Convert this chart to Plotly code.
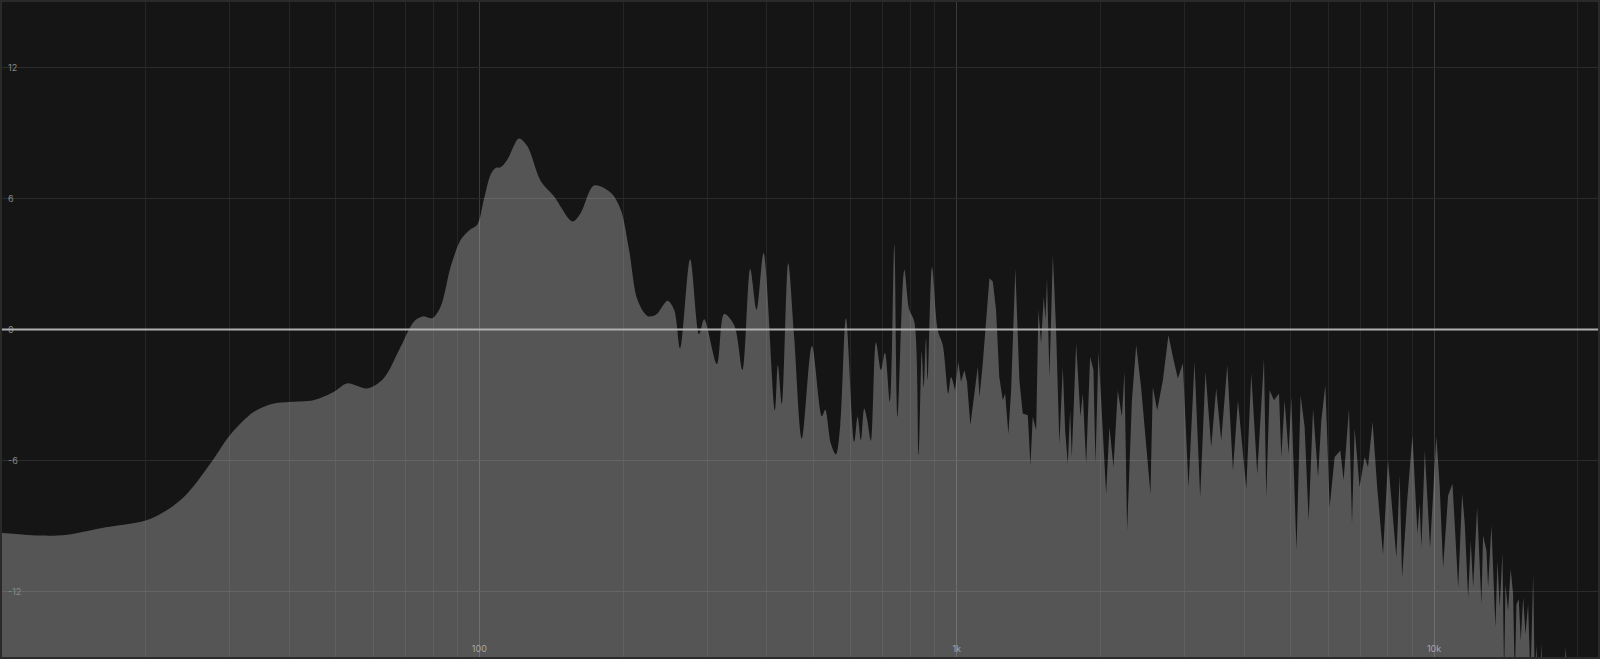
import math
import plotly.graph_objects as go

# ---------------- data (Hz, dB) ----------------
# smooth low / mid band
freq_lo = [10, 12.2, 13.7, 16.1, 20, 22.1, 24.4, 27.3, 30, 33.7, 37.1, 40, 44.9, 49.5,
           52.8, 58.2, 63, 68.4, 72.9, 76, 79.7, 83, 87.1, 91.4, 95.1, 99, 102.2, 105.6,
           108.2, 110.8, 114.5, 121, 126, 134.5, 143.3, 156.7, 163.1, 173.9, 188.5, 197.8,
           205.9, 214.4, 225, 234.3, 247.9, 255.9, 263.4, 276.4, 288.7, 295.8, 314.5,
           325.7, 341.8, 355.9, 369.3, 380.8, 393.9, 416, 422, 430.3, 443.6, 456.5, 474,
           497.4, 521.9, 530.3, 545.1, 558.5, 570.2, 586.1, 610, 620, 630, 640, 648.6,
           661.3, 677.3, 693.9, 707.4, 724.6, 740, 752, 776.6, 795.5, 815, 832.4, 844.6,
           852.8, 862.3, 869.5, 887.7, 912.5, 934.8, 960.3, 972.8, 991.8]
db_lo = [-9.32, -9.44, -9.4, -9.1, -8.75, -8.29, -7.53, -6.15, -4.85, -3.77, -3.39, -3.32,
         -3.24, -2.86, -2.47, -2.7, -2.24, -0.79, 0.36, 0.6, 0.52, 1.05, 2.88, 4.11, 4.54,
         4.8, 5.95, 7.1, 7.4, 7.43, 7.79, 8.75, 8.4, 6.79, 6.1, 4.95, 5.34, 6.59, 6.26, 5.49,
         3.65, 1.36, 0.62, 0.67, 1.32, 0.9, -0.87, 3.22, -0.21, 0.47, -1.58, 0.71, 0.21,
         -1.86, 2.77, 0.9, 3.5, -3.7, -1.63, -3.42, 3.04, -0.33, -5.0, -0.76, -3.97, -3.67,
         -5.23, -5.72, -4.39, 0.51, -5.15, -4.0, -5.08, -3.62, -4.08, -5.11, -0.6, -1.86,
         -1.06, -3.32, 3.88, -4.0, 2.73, 0.9, 0.36, -5.76, -1.02, -2.63, -0.4, -2.32, 2.86,
         -0.02, -0.71, -2.93, -2.17, -2.78]

# spiky high band
freq_hi = [991.8, 1008, 1021, 1037.5, 1051, 1068, 1107, 1116, 1134, 1171, 1190, 1209, 1228,
           1249, 1263, 1283, 1300, 1327, 1353, 1375, 1409, 1427, 1443, 1467, 1483, 1502,
           1522, 1534, 1546, 1564, 1590, 1615, 1641, 1668, 1687, 1709, 1728, 1742, 1779,
           1816, 1837, 1867, 1903, 1934, 1953, 1981, 2007, 2056, 2089, 2130, 2175, 2218,
           2246, 2275, 2328, 2377, 2435, 2494, 2546, 2575, 2630, 2703, 2777, 2837, 2906,
           2977, 3059, 3149, 3236, 3320, 3413, 3496, 3582, 3688, 3790, 3883, 3945, 4042,
           4140, 4262, 4402, 4451, 4523, 4620, 4733, 4786, 4863, 4958, 5022, 5150, 5253,
           5356, 5461, 5578, 5714, 5805, 5919, 6043, 6190, 6362, 6464, 6634, 6731, 6817,
           6982, 7153, 7271, 7434, 7605, 7817, 8009, 8337, 8472, 8570, 8794, 9009, 9229,
           9328, 9407, 9562, 9809, 10111, 10273, 10445, 10700, 10930, 11235, 11450, 11596,
           11785, 11935, 12075, 12307, 12566, 12666, 12877, 12976, 13187, 13445, 13575,
           13725, 13908, 14020, 14110, 14290, 14470, 14640, 14760, 14880, 15045, 15190,
           15370, 15540, 15740, 15920, 16130, 16250, 16380, 16500, 16700, 16780, 16860,
           18700, 18870, 19050, 22050]
db_hi = [-2.78, -1.48, -2.4, -1.86, -2.4, -4.39, -1.71, -3.09, -1.55, 2.35, 2.2, 0.9, -2.17,
         -3.24, -2.93, -4.77, -2.78, 2.81, -2.32, -3.85, -3.93, -6.22, -4.0, -4.62, 0.9,
         -0.63, 1.51, 0.44, 2.35, -2.17, 3.42, -0.02, -5.23, -1.71, -4.62, -6.15, -3.7,
         -5.84, -0.63, -4.0, -2.93, -6.15, -1.25, -1.86, -6.15, -1.02, -3.24, -7.52, -4.46,
         -6.3, -2.78, -4.0, -1.94, -9.21, -3.24, -0.71, -2.7, -5.23, -7.52, -2.63, -3.7,
         -2.32, -0.25, -1.25, -2.24, -1.55, -7.22, -1.48, -7.68, -1.94, -5.38, -2.7, -5.08,
         -1.63, -6.45, -3.24, -4.92, -7.29, -2.01, -6.61, -1.32, -7.68, -2.78, -3.24, -2.93,
         -5.84, -3.24, -5.69, -3.09, -10.1, -3.01, -4.46, -8.75, -3.62, -6.76, -4.16, -2.55,
         -8.14, -5.84, -5.54, -6.91, -3.62, -8.9, -4.54, -7.22, -5.84, -6.3, -4.24, -7.29,
         -10.28, -5.99, -10.44, -6.68, -11.36, -7.68, -4.85, -9.36, -7.98, -9.98, -5.54,
         -9.98, -4.9, -7.14, -10.9, -7.6, -7.07, -11.81, -7.52, -8.9, -12.27, -9.67, -11.81,
         -8.14, -12.58, -9.44, -10.13, -11.81, -8.98, -13.65, -10.59, -12.73, -10.21, -16,
         -11.66, -12.88, -10.97, -12.12, -16, -12.58, -12.35, -14.26, -12.27, -13.95, -12.58,
         -16, -11.2, -16, -14.49, -16, -16, -14.34, -16, -16, -14.57, -16, -16]

x_tick_vals = [100, 1000, 10000]
x_tick_text = ["100", "1k", "10k"]
x_minor_vals = [20, 30, 40, 50, 60, 70, 80, 90,
                200, 300, 400, 500, 600, 700, 800, 900,
                2000, 3000, 4000, 5000, 6000, 7000, 8000, 9000, 20000]
y_tick_vals = [-12, -6, 0, 6, 12]
y_tick_text = ["-12", "-6", "0", "6", "12"]

# ---------------- style ----------------
FLOOR_DB = -20
FILL = "rgba(255,255,255,0.274)"
BG = "#151515"
FRAME = "#2a2a2a"

fig = go.Figure()
# low band
fig.add_trace(go.Scatter(x=[freq_lo[0], freq_lo[-1]], y=[FLOOR_DB, FLOOR_DB], mode="lines",
                         line=dict(width=0), hoverinfo="skip", showlegend=False))
fig.add_trace(go.Scatter(x=freq_lo, y=db_lo, mode="lines",
                         line=dict(width=0, shape="spline", smoothing=0.9, color=FILL),
                         fill="tonexty", fillcolor=FILL, showlegend=False))
# high band
fig.add_trace(go.Scatter(x=[freq_hi[0], freq_hi[-1]], y=[FLOOR_DB, FLOOR_DB], mode="lines",
                         line=dict(width=0), hoverinfo="skip", showlegend=False))
fig.add_trace(go.Scatter(x=freq_hi, y=db_hi, mode="lines",
                         line=dict(width=0, color=FILL),
                         fill="tonexty", fillcolor=FILL, showlegend=False))

fig.add_hline(y=0, line=dict(color="#b0b0b0", width=2), layer="above")

fig.update_layout(
    width=1600, height=659,
    margin=dict(l=2, r=2, t=2, b=2),
    paper_bgcolor=FRAME, plot_bgcolor=BG,
    showlegend=False,
    font=dict(family="Inter, Roboto, sans-serif", size=9, color="#8a8a8a"),
    xaxis=dict(type="log", range=[1, math.log10(22050)],
               tickvals=x_tick_vals, ticktext=x_tick_text,
               ticklabelposition="inside", ticks="",
               showgrid=True, gridcolor="#3a3a3a", gridwidth=1.2,
               minor=dict(tickvals=x_minor_vals, showgrid=True, gridcolor="#252525",
                          gridwidth=1, ticks=""),
               zeroline=False, showline=False,
               tickfont=dict(size=9, color="#a6a6a6")),
    yaxis=dict(range=[-15, 15], tickvals=y_tick_vals, ticktext=y_tick_text,
               ticklabelposition="inside", ticks="", ticklabelstandoff=3,
               showgrid=True, gridcolor="#2b2b2b", gridwidth=1,
               zeroline=False, showline=False,
               tickfont=dict(size=9, color="#8a8a8a")),
)

fig.write_html("out.html", config={"displayModeBar": False},
               post_script="document.body.style.margin='0';document.body.style.overflow='hidden';")
